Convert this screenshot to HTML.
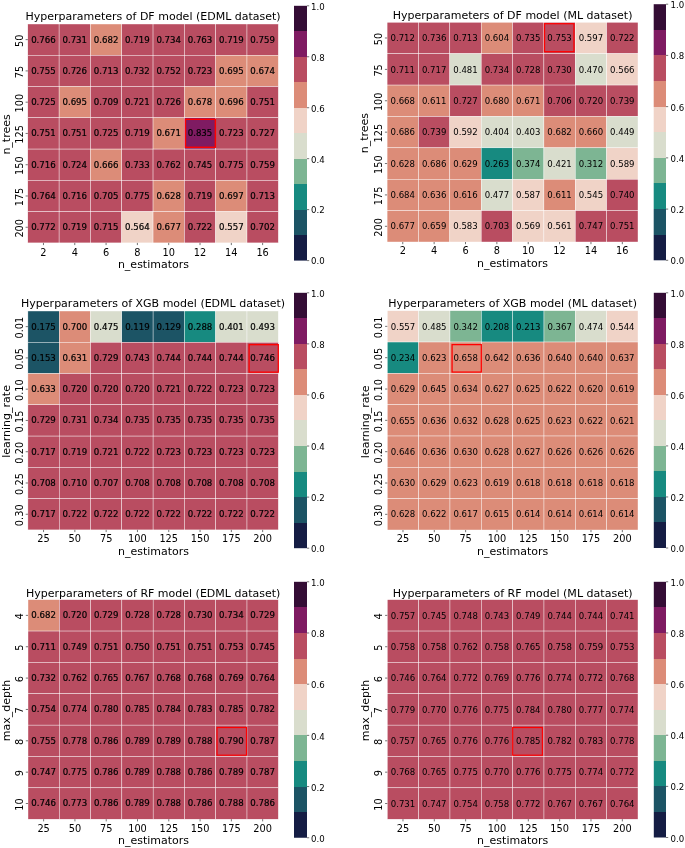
<!DOCTYPE html>
<html><head><meta charset="utf-8"><title>Hyperparameter heatmaps</title>
<style>html,body{margin:0;padding:0;background:#fff}svg{display:block}text{font-family:"DejaVu Sans", "Liberation Sans", sans-serif}</style></head>
<body><svg width="685" height="848" viewBox="0 0 685 848">
<rect width="685" height="848" fill="#fff"/>
<g class="panel p0">
<g stroke="#fff" stroke-width="0.4">
<rect x="27.8" y="24" width="31.31" height="31.27" fill="#b94d61"/>
<rect x="59.11" y="24" width="31.31" height="31.27" fill="#b94d61"/>
<rect x="90.42" y="24" width="31.31" height="31.27" fill="#dc8c78"/>
<rect x="121.74" y="24" width="31.31" height="31.27" fill="#b94d61"/>
<rect x="153.05" y="24" width="31.31" height="31.27" fill="#b94d61"/>
<rect x="184.36" y="24" width="31.31" height="31.27" fill="#b94d61"/>
<rect x="215.68" y="24" width="31.31" height="31.27" fill="#b94d61"/>
<rect x="246.99" y="24" width="31.31" height="31.27" fill="#b94d61"/>
<rect x="27.8" y="55.27" width="31.31" height="31.27" fill="#b94d61"/>
<rect x="59.11" y="55.27" width="31.31" height="31.27" fill="#b94d61"/>
<rect x="90.42" y="55.27" width="31.31" height="31.27" fill="#b94d61"/>
<rect x="121.74" y="55.27" width="31.31" height="31.27" fill="#b94d61"/>
<rect x="153.05" y="55.27" width="31.31" height="31.27" fill="#b94d61"/>
<rect x="184.36" y="55.27" width="31.31" height="31.27" fill="#b94d61"/>
<rect x="215.68" y="55.27" width="31.31" height="31.27" fill="#dc8c78"/>
<rect x="246.99" y="55.27" width="31.31" height="31.27" fill="#dc8c78"/>
<rect x="27.8" y="86.54" width="31.31" height="31.27" fill="#b94d61"/>
<rect x="59.11" y="86.54" width="31.31" height="31.27" fill="#dc8c78"/>
<rect x="90.42" y="86.54" width="31.31" height="31.27" fill="#b94d61"/>
<rect x="121.74" y="86.54" width="31.31" height="31.27" fill="#b94d61"/>
<rect x="153.05" y="86.54" width="31.31" height="31.27" fill="#b94d61"/>
<rect x="184.36" y="86.54" width="31.31" height="31.27" fill="#dc8c78"/>
<rect x="215.68" y="86.54" width="31.31" height="31.27" fill="#dc8c78"/>
<rect x="246.99" y="86.54" width="31.31" height="31.27" fill="#b94d61"/>
<rect x="27.8" y="117.81" width="31.31" height="31.27" fill="#b94d61"/>
<rect x="59.11" y="117.81" width="31.31" height="31.27" fill="#b94d61"/>
<rect x="90.42" y="117.81" width="31.31" height="31.27" fill="#b94d61"/>
<rect x="121.74" y="117.81" width="31.31" height="31.27" fill="#b94d61"/>
<rect x="153.05" y="117.81" width="31.31" height="31.27" fill="#dc8c78"/>
<rect x="184.36" y="117.81" width="31.31" height="31.27" fill="#7f1b62"/>
<rect x="215.68" y="117.81" width="31.31" height="31.27" fill="#b94d61"/>
<rect x="246.99" y="117.81" width="31.31" height="31.27" fill="#b94d61"/>
<rect x="27.8" y="149.09" width="31.31" height="31.27" fill="#b94d61"/>
<rect x="59.11" y="149.09" width="31.31" height="31.27" fill="#b94d61"/>
<rect x="90.42" y="149.09" width="31.31" height="31.27" fill="#dc8c78"/>
<rect x="121.74" y="149.09" width="31.31" height="31.27" fill="#b94d61"/>
<rect x="153.05" y="149.09" width="31.31" height="31.27" fill="#b94d61"/>
<rect x="184.36" y="149.09" width="31.31" height="31.27" fill="#b94d61"/>
<rect x="215.68" y="149.09" width="31.31" height="31.27" fill="#b94d61"/>
<rect x="246.99" y="149.09" width="31.31" height="31.27" fill="#b94d61"/>
<rect x="27.8" y="180.36" width="31.31" height="31.27" fill="#b94d61"/>
<rect x="59.11" y="180.36" width="31.31" height="31.27" fill="#b94d61"/>
<rect x="90.42" y="180.36" width="31.31" height="31.27" fill="#b94d61"/>
<rect x="121.74" y="180.36" width="31.31" height="31.27" fill="#b94d61"/>
<rect x="153.05" y="180.36" width="31.31" height="31.27" fill="#dc8c78"/>
<rect x="184.36" y="180.36" width="31.31" height="31.27" fill="#b94d61"/>
<rect x="215.68" y="180.36" width="31.31" height="31.27" fill="#dc8c78"/>
<rect x="246.99" y="180.36" width="31.31" height="31.27" fill="#b94d61"/>
<rect x="27.8" y="211.63" width="31.31" height="31.27" fill="#b94d61"/>
<rect x="59.11" y="211.63" width="31.31" height="31.27" fill="#b94d61"/>
<rect x="90.42" y="211.63" width="31.31" height="31.27" fill="#b94d61"/>
<rect x="121.74" y="211.63" width="31.31" height="31.27" fill="#f0d3c7"/>
<rect x="153.05" y="211.63" width="31.31" height="31.27" fill="#dc8c78"/>
<rect x="184.36" y="211.63" width="31.31" height="31.27" fill="#b94d61"/>
<rect x="215.68" y="211.63" width="31.31" height="31.27" fill="#f0d3c7"/>
<rect x="246.99" y="211.63" width="31.31" height="31.27" fill="#b94d61"/>
</g>
<g font-size="8.6" text-anchor="middle" fill="#000" stroke="#000" stroke-width="0.2">
<text x="43.46" y="42.54">0.766</text>
<text x="74.77" y="42.54">0.731</text>
<text x="106.08" y="42.54">0.682</text>
<text x="137.39" y="42.54">0.719</text>
<text x="168.71" y="42.54">0.734</text>
<text x="200.02" y="42.54">0.763</text>
<text x="231.33" y="42.54">0.719</text>
<text x="262.64" y="42.54">0.759</text>
<text x="43.46" y="73.81">0.755</text>
<text x="74.77" y="73.81">0.726</text>
<text x="106.08" y="73.81">0.713</text>
<text x="137.39" y="73.81">0.732</text>
<text x="168.71" y="73.81">0.752</text>
<text x="200.02" y="73.81">0.723</text>
<text x="231.33" y="73.81">0.695</text>
<text x="262.64" y="73.81">0.674</text>
<text x="43.46" y="105.08">0.725</text>
<text x="74.77" y="105.08">0.695</text>
<text x="106.08" y="105.08">0.709</text>
<text x="137.39" y="105.08">0.721</text>
<text x="168.71" y="105.08">0.726</text>
<text x="200.02" y="105.08">0.678</text>
<text x="231.33" y="105.08">0.696</text>
<text x="262.64" y="105.08">0.751</text>
<text x="43.46" y="136.35">0.751</text>
<text x="74.77" y="136.35">0.751</text>
<text x="106.08" y="136.35">0.725</text>
<text x="137.39" y="136.35">0.719</text>
<text x="168.71" y="136.35">0.671</text>
<text x="200.02" y="136.35">0.835</text>
<text x="231.33" y="136.35">0.723</text>
<text x="262.64" y="136.35">0.727</text>
<text x="43.46" y="167.62">0.716</text>
<text x="74.77" y="167.62">0.724</text>
<text x="106.08" y="167.62">0.666</text>
<text x="137.39" y="167.62">0.733</text>
<text x="168.71" y="167.62">0.762</text>
<text x="200.02" y="167.62">0.745</text>
<text x="231.33" y="167.62">0.775</text>
<text x="262.64" y="167.62">0.759</text>
<text x="43.46" y="198.89">0.764</text>
<text x="74.77" y="198.89">0.716</text>
<text x="106.08" y="198.89">0.705</text>
<text x="137.39" y="198.89">0.775</text>
<text x="168.71" y="198.89">0.628</text>
<text x="200.02" y="198.89">0.719</text>
<text x="231.33" y="198.89">0.697</text>
<text x="262.64" y="198.89">0.713</text>
<text x="43.46" y="230.16">0.772</text>
<text x="74.77" y="230.16">0.719</text>
<text x="106.08" y="230.16">0.715</text>
<text x="137.39" y="230.16">0.564</text>
<text x="168.71" y="230.16">0.677</text>
<text x="200.02" y="230.16">0.722</text>
<text x="231.33" y="230.16">0.557</text>
<text x="262.64" y="230.16">0.702</text>
</g>
<rect x="185.46" y="119.31" width="29.91" height="27.97" fill="none" stroke="#ff0000" stroke-width="1.4"/>
<path d="M43.46 242.9v2.2M74.77 242.9v2.2M106.08 242.9v2.2M137.39 242.9v2.2M168.71 242.9v2.2M200.02 242.9v2.2M231.33 242.9v2.2M262.64 242.9v2.2M27.8 39.64h-2.2M27.8 70.91h-2.2M27.8 102.18h-2.2M27.8 133.45h-2.2M27.8 164.72h-2.2M27.8 195.99h-2.2M27.8 227.26h-2.2" stroke="#000" stroke-width="0.55" fill="none"/>
<text x="43.46" y="255.75" font-size="9.8" text-anchor="middle" fill="#000">2</text>
<text x="74.77" y="255.75" font-size="9.8" text-anchor="middle" fill="#000">4</text>
<text x="106.08" y="255.75" font-size="9.8" text-anchor="middle" fill="#000">6</text>
<text x="137.39" y="255.75" font-size="9.8" text-anchor="middle" fill="#000">8</text>
<text x="168.71" y="255.75" font-size="9.8" text-anchor="middle" fill="#000">10</text>
<text x="200.02" y="255.75" font-size="9.8" text-anchor="middle" fill="#000">12</text>
<text x="231.33" y="255.75" font-size="9.8" text-anchor="middle" fill="#000">14</text>
<text x="262.64" y="255.75" font-size="9.8" text-anchor="middle" fill="#000">16</text>
<text x="22.7" y="40.64" font-size="9.8" text-anchor="middle" fill="#000" transform="rotate(-90 22.7 40.64)">50</text>
<text x="22.7" y="71.91" font-size="9.8" text-anchor="middle" fill="#000" transform="rotate(-90 22.7 71.91)">75</text>
<text x="22.7" y="103.18" font-size="9.8" text-anchor="middle" fill="#000" transform="rotate(-90 22.7 103.18)">100</text>
<text x="22.7" y="134.45" font-size="9.8" text-anchor="middle" fill="#000" transform="rotate(-90 22.7 134.45)">125</text>
<text x="22.7" y="165.72" font-size="9.8" text-anchor="middle" fill="#000" transform="rotate(-90 22.7 165.72)">150</text>
<text x="22.7" y="196.99" font-size="9.8" text-anchor="middle" fill="#000" transform="rotate(-90 22.7 196.99)">175</text>
<text x="22.7" y="228.26" font-size="9.8" text-anchor="middle" fill="#000" transform="rotate(-90 22.7 228.26)">200</text>
<text x="153.45" y="268.1" font-size="11.0" text-anchor="middle" fill="#000">n_estimators</text>
<text x="10.2" y="134.45" font-size="11.0" text-anchor="middle" fill="#000" transform="rotate(-90 10.2 134.45)">n_trees</text>
<text x="153.05" y="20.1" font-size="11.0" text-anchor="middle" fill="#000">Hyperparameters of DF model (EDML dataset)</text>
<defs><linearGradient id="cb0" x1="0" y1="0" x2="0" y2="1"><stop offset="0" stop-color="#340d35"/><stop offset="0.1" stop-color="#340d35"/><stop offset="0.1" stop-color="#7f1b62"/><stop offset="0.2" stop-color="#7f1b62"/><stop offset="0.2" stop-color="#b94d61"/><stop offset="0.3" stop-color="#b94d61"/><stop offset="0.3" stop-color="#dc8c78"/><stop offset="0.4" stop-color="#dc8c78"/><stop offset="0.4" stop-color="#f0d3c7"/><stop offset="0.5" stop-color="#f0d3c7"/><stop offset="0.5" stop-color="#d9ddcd"/><stop offset="0.6" stop-color="#d9ddcd"/><stop offset="0.6" stop-color="#7db593"/><stop offset="0.7" stop-color="#7db593"/><stop offset="0.7" stop-color="#178a80"/><stop offset="0.8" stop-color="#178a80"/><stop offset="0.8" stop-color="#1c5465"/><stop offset="0.9" stop-color="#1c5465"/><stop offset="0.9" stop-color="#151d44"/><stop offset="1" stop-color="#151d44"/></linearGradient></defs>
<rect x="294" y="5.8" width="13" height="254.8" fill="url(#cb0)"/>
<text x="311" y="264.44" font-size="8.6" text-anchor="start" fill="#000">0.0</text>
<text x="311" y="213.48" font-size="8.6" text-anchor="start" fill="#000">0.2</text>
<text x="311" y="162.52" font-size="8.6" text-anchor="start" fill="#000">0.4</text>
<text x="311" y="111.56" font-size="8.6" text-anchor="start" fill="#000">0.6</text>
<text x="311" y="60.6" font-size="8.6" text-anchor="start" fill="#000">0.8</text>
<text x="311" y="9.64" font-size="8.6" text-anchor="start" fill="#000">1.0</text>
<path d="M307 260.6h2.2M307 209.64h2.2M307 158.68h2.2M307 107.72h2.2M307 56.76h2.2M307 5.8h2.2" stroke="#000" stroke-width="0.55" fill="none"/>
</g>
<g class="panel p1">
<g stroke="#fff" stroke-width="0.4">
<rect x="387.1" y="22.3" width="31.36" height="31.39" fill="#b94d61"/>
<rect x="418.46" y="22.3" width="31.36" height="31.39" fill="#b94d61"/>
<rect x="449.83" y="22.3" width="31.36" height="31.39" fill="#b94d61"/>
<rect x="481.19" y="22.3" width="31.36" height="31.39" fill="#dc8c78"/>
<rect x="512.55" y="22.3" width="31.36" height="31.39" fill="#b94d61"/>
<rect x="543.91" y="22.3" width="31.36" height="31.39" fill="#b94d61"/>
<rect x="575.27" y="22.3" width="31.36" height="31.39" fill="#f0d3c7"/>
<rect x="606.64" y="22.3" width="31.36" height="31.39" fill="#b94d61"/>
<rect x="387.1" y="53.69" width="31.36" height="31.39" fill="#b94d61"/>
<rect x="418.46" y="53.69" width="31.36" height="31.39" fill="#b94d61"/>
<rect x="449.83" y="53.69" width="31.36" height="31.39" fill="#d9ddcd"/>
<rect x="481.19" y="53.69" width="31.36" height="31.39" fill="#b94d61"/>
<rect x="512.55" y="53.69" width="31.36" height="31.39" fill="#b94d61"/>
<rect x="543.91" y="53.69" width="31.36" height="31.39" fill="#b94d61"/>
<rect x="575.27" y="53.69" width="31.36" height="31.39" fill="#d9ddcd"/>
<rect x="606.64" y="53.69" width="31.36" height="31.39" fill="#f0d3c7"/>
<rect x="387.1" y="85.07" width="31.36" height="31.39" fill="#dc8c78"/>
<rect x="418.46" y="85.07" width="31.36" height="31.39" fill="#dc8c78"/>
<rect x="449.83" y="85.07" width="31.36" height="31.39" fill="#b94d61"/>
<rect x="481.19" y="85.07" width="31.36" height="31.39" fill="#dc8c78"/>
<rect x="512.55" y="85.07" width="31.36" height="31.39" fill="#dc8c78"/>
<rect x="543.91" y="85.07" width="31.36" height="31.39" fill="#b94d61"/>
<rect x="575.27" y="85.07" width="31.36" height="31.39" fill="#b94d61"/>
<rect x="606.64" y="85.07" width="31.36" height="31.39" fill="#b94d61"/>
<rect x="387.1" y="116.46" width="31.36" height="31.39" fill="#dc8c78"/>
<rect x="418.46" y="116.46" width="31.36" height="31.39" fill="#b94d61"/>
<rect x="449.83" y="116.46" width="31.36" height="31.39" fill="#f0d3c7"/>
<rect x="481.19" y="116.46" width="31.36" height="31.39" fill="#d9ddcd"/>
<rect x="512.55" y="116.46" width="31.36" height="31.39" fill="#d9ddcd"/>
<rect x="543.91" y="116.46" width="31.36" height="31.39" fill="#dc8c78"/>
<rect x="575.27" y="116.46" width="31.36" height="31.39" fill="#dc8c78"/>
<rect x="606.64" y="116.46" width="31.36" height="31.39" fill="#d9ddcd"/>
<rect x="387.1" y="147.84" width="31.36" height="31.39" fill="#dc8c78"/>
<rect x="418.46" y="147.84" width="31.36" height="31.39" fill="#dc8c78"/>
<rect x="449.83" y="147.84" width="31.36" height="31.39" fill="#dc8c78"/>
<rect x="481.19" y="147.84" width="31.36" height="31.39" fill="#178a80"/>
<rect x="512.55" y="147.84" width="31.36" height="31.39" fill="#7db593"/>
<rect x="543.91" y="147.84" width="31.36" height="31.39" fill="#d9ddcd"/>
<rect x="575.27" y="147.84" width="31.36" height="31.39" fill="#7db593"/>
<rect x="606.64" y="147.84" width="31.36" height="31.39" fill="#f0d3c7"/>
<rect x="387.1" y="179.23" width="31.36" height="31.39" fill="#dc8c78"/>
<rect x="418.46" y="179.23" width="31.36" height="31.39" fill="#dc8c78"/>
<rect x="449.83" y="179.23" width="31.36" height="31.39" fill="#dc8c78"/>
<rect x="481.19" y="179.23" width="31.36" height="31.39" fill="#d9ddcd"/>
<rect x="512.55" y="179.23" width="31.36" height="31.39" fill="#f0d3c7"/>
<rect x="543.91" y="179.23" width="31.36" height="31.39" fill="#dc8c78"/>
<rect x="575.27" y="179.23" width="31.36" height="31.39" fill="#f0d3c7"/>
<rect x="606.64" y="179.23" width="31.36" height="31.39" fill="#b94d61"/>
<rect x="387.1" y="210.61" width="31.36" height="31.39" fill="#dc8c78"/>
<rect x="418.46" y="210.61" width="31.36" height="31.39" fill="#dc8c78"/>
<rect x="449.83" y="210.61" width="31.36" height="31.39" fill="#f0d3c7"/>
<rect x="481.19" y="210.61" width="31.36" height="31.39" fill="#b94d61"/>
<rect x="512.55" y="210.61" width="31.36" height="31.39" fill="#f0d3c7"/>
<rect x="543.91" y="210.61" width="31.36" height="31.39" fill="#f0d3c7"/>
<rect x="575.27" y="210.61" width="31.36" height="31.39" fill="#b94d61"/>
<rect x="606.64" y="210.61" width="31.36" height="31.39" fill="#b94d61"/>
</g>
<g font-size="8.55" text-anchor="middle" fill="#000" stroke="#000" stroke-width="0">
<text x="402.78" y="41.14">0.712</text>
<text x="434.14" y="41.14">0.736</text>
<text x="465.51" y="41.14">0.713</text>
<text x="496.87" y="41.14">0.604</text>
<text x="528.23" y="41.14">0.735</text>
<text x="559.59" y="41.14">0.753</text>
<text x="590.96" y="41.14">0.597</text>
<text x="622.32" y="41.14">0.722</text>
<text x="402.78" y="72.53">0.711</text>
<text x="434.14" y="72.53">0.717</text>
<text x="465.51" y="72.53">0.481</text>
<text x="496.87" y="72.53">0.734</text>
<text x="528.23" y="72.53">0.728</text>
<text x="559.59" y="72.53">0.730</text>
<text x="590.96" y="72.53">0.470</text>
<text x="622.32" y="72.53">0.566</text>
<text x="402.78" y="103.91">0.668</text>
<text x="434.14" y="103.91">0.611</text>
<text x="465.51" y="103.91">0.727</text>
<text x="496.87" y="103.91">0.680</text>
<text x="528.23" y="103.91">0.671</text>
<text x="559.59" y="103.91">0.706</text>
<text x="590.96" y="103.91">0.720</text>
<text x="622.32" y="103.91">0.739</text>
<text x="402.78" y="135.3">0.686</text>
<text x="434.14" y="135.3">0.739</text>
<text x="465.51" y="135.3">0.592</text>
<text x="496.87" y="135.3">0.404</text>
<text x="528.23" y="135.3">0.403</text>
<text x="559.59" y="135.3">0.682</text>
<text x="590.96" y="135.3">0.660</text>
<text x="622.32" y="135.3">0.449</text>
<text x="402.78" y="166.69">0.628</text>
<text x="434.14" y="166.69">0.686</text>
<text x="465.51" y="166.69">0.629</text>
<text x="496.87" y="166.69">0.263</text>
<text x="528.23" y="166.69">0.374</text>
<text x="559.59" y="166.69">0.421</text>
<text x="590.96" y="166.69">0.312</text>
<text x="622.32" y="166.69">0.589</text>
<text x="402.78" y="198.07">0.684</text>
<text x="434.14" y="198.07">0.636</text>
<text x="465.51" y="198.07">0.616</text>
<text x="496.87" y="198.07">0.477</text>
<text x="528.23" y="198.07">0.587</text>
<text x="559.59" y="198.07">0.611</text>
<text x="590.96" y="198.07">0.545</text>
<text x="622.32" y="198.07">0.740</text>
<text x="402.78" y="229.46">0.677</text>
<text x="434.14" y="229.46">0.659</text>
<text x="465.51" y="229.46">0.583</text>
<text x="496.87" y="229.46">0.703</text>
<text x="528.23" y="229.46">0.569</text>
<text x="559.59" y="229.46">0.561</text>
<text x="590.96" y="229.46">0.747</text>
<text x="622.32" y="229.46">0.751</text>
</g>
<rect x="544.51" y="23.7" width="29.46" height="27.99" fill="none" stroke="#ff0000" stroke-width="1.25"/>
<path d="M402.78 242v2.2M434.14 242v2.2M465.51 242v2.2M496.87 242v2.2M528.23 242v2.2M559.59 242v2.2M590.96 242v2.2M622.32 242v2.2M387.1 37.99h-2.2M387.1 69.38h-2.2M387.1 100.76h-2.2M387.1 132.15h-2.2M387.1 163.54h-2.2M387.1 194.92h-2.2M387.1 226.31h-2.2" stroke="#000" stroke-width="0.55" fill="none"/>
<text x="402.78" y="254.2" font-size="9.8" text-anchor="middle" fill="#000">2</text>
<text x="434.14" y="254.2" font-size="9.8" text-anchor="middle" fill="#000">4</text>
<text x="465.51" y="254.2" font-size="9.8" text-anchor="middle" fill="#000">6</text>
<text x="496.87" y="254.2" font-size="9.8" text-anchor="middle" fill="#000">8</text>
<text x="528.23" y="254.2" font-size="9.8" text-anchor="middle" fill="#000">10</text>
<text x="559.59" y="254.2" font-size="9.8" text-anchor="middle" fill="#000">12</text>
<text x="590.96" y="254.2" font-size="9.8" text-anchor="middle" fill="#000">14</text>
<text x="622.32" y="254.2" font-size="9.8" text-anchor="middle" fill="#000">16</text>
<text x="382" y="38.99" font-size="9.8" text-anchor="middle" fill="#000" transform="rotate(-90 382 38.99)">50</text>
<text x="382" y="70.38" font-size="9.8" text-anchor="middle" fill="#000" transform="rotate(-90 382 70.38)">75</text>
<text x="382" y="101.76" font-size="9.8" text-anchor="middle" fill="#000" transform="rotate(-90 382 101.76)">100</text>
<text x="382" y="133.15" font-size="9.8" text-anchor="middle" fill="#000" transform="rotate(-90 382 133.15)">125</text>
<text x="382" y="164.54" font-size="9.8" text-anchor="middle" fill="#000" transform="rotate(-90 382 164.54)">150</text>
<text x="382" y="195.92" font-size="9.8" text-anchor="middle" fill="#000" transform="rotate(-90 382 195.92)">175</text>
<text x="382" y="227.31" font-size="9.8" text-anchor="middle" fill="#000" transform="rotate(-90 382 227.31)">200</text>
<text x="512.55" y="266.8" font-size="11.0" text-anchor="middle" fill="#000">n_estimators</text>
<text x="368.3" y="133.15" font-size="11.0" text-anchor="middle" fill="#000" transform="rotate(-90 368.3 133.15)">n_trees</text>
<text x="512.55" y="18.8" font-size="11.0" text-anchor="middle" fill="#000">Hyperparameters of DF model (ML dataset)</text>
<defs><linearGradient id="cb1" x1="0" y1="0" x2="0" y2="1"><stop offset="0" stop-color="#340d35"/><stop offset="0.1" stop-color="#340d35"/><stop offset="0.1" stop-color="#7f1b62"/><stop offset="0.2" stop-color="#7f1b62"/><stop offset="0.2" stop-color="#b94d61"/><stop offset="0.3" stop-color="#b94d61"/><stop offset="0.3" stop-color="#dc8c78"/><stop offset="0.4" stop-color="#dc8c78"/><stop offset="0.4" stop-color="#f0d3c7"/><stop offset="0.5" stop-color="#f0d3c7"/><stop offset="0.5" stop-color="#d9ddcd"/><stop offset="0.6" stop-color="#d9ddcd"/><stop offset="0.6" stop-color="#7db593"/><stop offset="0.7" stop-color="#7db593"/><stop offset="0.7" stop-color="#178a80"/><stop offset="0.8" stop-color="#178a80"/><stop offset="0.8" stop-color="#1c5465"/><stop offset="0.9" stop-color="#1c5465"/><stop offset="0.9" stop-color="#151d44"/><stop offset="1" stop-color="#151d44"/></linearGradient></defs>
<rect x="653.7" y="4.2" width="12.3" height="256.1" fill="url(#cb1)"/>
<text x="670.5" y="264.34" font-size="8.6" text-anchor="start" fill="#000">0.0</text>
<text x="670.5" y="213.12" font-size="8.6" text-anchor="start" fill="#000">0.2</text>
<text x="670.5" y="161.9" font-size="8.6" text-anchor="start" fill="#000">0.4</text>
<text x="670.5" y="110.68" font-size="8.6" text-anchor="start" fill="#000">0.6</text>
<text x="670.5" y="59.46" font-size="8.6" text-anchor="start" fill="#000">0.8</text>
<text x="670.5" y="8.24" font-size="8.6" text-anchor="start" fill="#000">1.0</text>
<path d="M666 260.3h2.2M666 209.08h2.2M666 157.86h2.2M666 106.64h2.2M666 55.42h2.2M666 4.2h2.2" stroke="#000" stroke-width="0.55" fill="none"/>
</g>
<g class="panel p2">
<g stroke="#fff" stroke-width="0.4">
<rect x="27.9" y="311" width="31.3" height="31.27" fill="#1c5465"/>
<rect x="59.2" y="311" width="31.3" height="31.27" fill="#dc8c78"/>
<rect x="90.5" y="311" width="31.3" height="31.27" fill="#d9ddcd"/>
<rect x="121.8" y="311" width="31.3" height="31.27" fill="#1c5465"/>
<rect x="153.1" y="311" width="31.3" height="31.27" fill="#1c5465"/>
<rect x="184.4" y="311" width="31.3" height="31.27" fill="#178a80"/>
<rect x="215.7" y="311" width="31.3" height="31.27" fill="#d9ddcd"/>
<rect x="247" y="311" width="31.3" height="31.27" fill="#d9ddcd"/>
<rect x="27.9" y="342.27" width="31.3" height="31.27" fill="#1c5465"/>
<rect x="59.2" y="342.27" width="31.3" height="31.27" fill="#dc8c78"/>
<rect x="90.5" y="342.27" width="31.3" height="31.27" fill="#b94d61"/>
<rect x="121.8" y="342.27" width="31.3" height="31.27" fill="#b94d61"/>
<rect x="153.1" y="342.27" width="31.3" height="31.27" fill="#b94d61"/>
<rect x="184.4" y="342.27" width="31.3" height="31.27" fill="#b94d61"/>
<rect x="215.7" y="342.27" width="31.3" height="31.27" fill="#b94d61"/>
<rect x="247" y="342.27" width="31.3" height="31.27" fill="#b94d61"/>
<rect x="27.9" y="373.54" width="31.3" height="31.27" fill="#dc8c78"/>
<rect x="59.2" y="373.54" width="31.3" height="31.27" fill="#b94d61"/>
<rect x="90.5" y="373.54" width="31.3" height="31.27" fill="#b94d61"/>
<rect x="121.8" y="373.54" width="31.3" height="31.27" fill="#b94d61"/>
<rect x="153.1" y="373.54" width="31.3" height="31.27" fill="#b94d61"/>
<rect x="184.4" y="373.54" width="31.3" height="31.27" fill="#b94d61"/>
<rect x="215.7" y="373.54" width="31.3" height="31.27" fill="#b94d61"/>
<rect x="247" y="373.54" width="31.3" height="31.27" fill="#b94d61"/>
<rect x="27.9" y="404.81" width="31.3" height="31.27" fill="#b94d61"/>
<rect x="59.2" y="404.81" width="31.3" height="31.27" fill="#b94d61"/>
<rect x="90.5" y="404.81" width="31.3" height="31.27" fill="#b94d61"/>
<rect x="121.8" y="404.81" width="31.3" height="31.27" fill="#b94d61"/>
<rect x="153.1" y="404.81" width="31.3" height="31.27" fill="#b94d61"/>
<rect x="184.4" y="404.81" width="31.3" height="31.27" fill="#b94d61"/>
<rect x="215.7" y="404.81" width="31.3" height="31.27" fill="#b94d61"/>
<rect x="247" y="404.81" width="31.3" height="31.27" fill="#b94d61"/>
<rect x="27.9" y="436.09" width="31.3" height="31.27" fill="#b94d61"/>
<rect x="59.2" y="436.09" width="31.3" height="31.27" fill="#b94d61"/>
<rect x="90.5" y="436.09" width="31.3" height="31.27" fill="#b94d61"/>
<rect x="121.8" y="436.09" width="31.3" height="31.27" fill="#b94d61"/>
<rect x="153.1" y="436.09" width="31.3" height="31.27" fill="#b94d61"/>
<rect x="184.4" y="436.09" width="31.3" height="31.27" fill="#b94d61"/>
<rect x="215.7" y="436.09" width="31.3" height="31.27" fill="#b94d61"/>
<rect x="247" y="436.09" width="31.3" height="31.27" fill="#b94d61"/>
<rect x="27.9" y="467.36" width="31.3" height="31.27" fill="#b94d61"/>
<rect x="59.2" y="467.36" width="31.3" height="31.27" fill="#b94d61"/>
<rect x="90.5" y="467.36" width="31.3" height="31.27" fill="#b94d61"/>
<rect x="121.8" y="467.36" width="31.3" height="31.27" fill="#b94d61"/>
<rect x="153.1" y="467.36" width="31.3" height="31.27" fill="#b94d61"/>
<rect x="184.4" y="467.36" width="31.3" height="31.27" fill="#b94d61"/>
<rect x="215.7" y="467.36" width="31.3" height="31.27" fill="#b94d61"/>
<rect x="247" y="467.36" width="31.3" height="31.27" fill="#b94d61"/>
<rect x="27.9" y="498.63" width="31.3" height="31.27" fill="#b94d61"/>
<rect x="59.2" y="498.63" width="31.3" height="31.27" fill="#b94d61"/>
<rect x="90.5" y="498.63" width="31.3" height="31.27" fill="#b94d61"/>
<rect x="121.8" y="498.63" width="31.3" height="31.27" fill="#b94d61"/>
<rect x="153.1" y="498.63" width="31.3" height="31.27" fill="#b94d61"/>
<rect x="184.4" y="498.63" width="31.3" height="31.27" fill="#b94d61"/>
<rect x="215.7" y="498.63" width="31.3" height="31.27" fill="#b94d61"/>
<rect x="247" y="498.63" width="31.3" height="31.27" fill="#b94d61"/>
</g>
<g font-size="8.6" text-anchor="middle" fill="#000" stroke="#000" stroke-width="0.2">
<text x="43.55" y="329.54">0.175</text>
<text x="74.85" y="329.54">0.700</text>
<text x="106.15" y="329.54">0.475</text>
<text x="137.45" y="329.54">0.119</text>
<text x="168.75" y="329.54">0.129</text>
<text x="200.05" y="329.54">0.288</text>
<text x="231.35" y="329.54">0.401</text>
<text x="262.65" y="329.54">0.493</text>
<text x="43.55" y="360.81">0.153</text>
<text x="74.85" y="360.81">0.631</text>
<text x="106.15" y="360.81">0.729</text>
<text x="137.45" y="360.81">0.743</text>
<text x="168.75" y="360.81">0.744</text>
<text x="200.05" y="360.81">0.744</text>
<text x="231.35" y="360.81">0.744</text>
<text x="262.65" y="360.81">0.746</text>
<text x="43.55" y="392.08">0.633</text>
<text x="74.85" y="392.08">0.720</text>
<text x="106.15" y="392.08">0.720</text>
<text x="137.45" y="392.08">0.720</text>
<text x="168.75" y="392.08">0.721</text>
<text x="200.05" y="392.08">0.722</text>
<text x="231.35" y="392.08">0.723</text>
<text x="262.65" y="392.08">0.723</text>
<text x="43.55" y="423.35">0.729</text>
<text x="74.85" y="423.35">0.731</text>
<text x="106.15" y="423.35">0.734</text>
<text x="137.45" y="423.35">0.735</text>
<text x="168.75" y="423.35">0.735</text>
<text x="200.05" y="423.35">0.735</text>
<text x="231.35" y="423.35">0.735</text>
<text x="262.65" y="423.35">0.735</text>
<text x="43.55" y="454.62">0.717</text>
<text x="74.85" y="454.62">0.719</text>
<text x="106.15" y="454.62">0.721</text>
<text x="137.45" y="454.62">0.722</text>
<text x="168.75" y="454.62">0.723</text>
<text x="200.05" y="454.62">0.723</text>
<text x="231.35" y="454.62">0.723</text>
<text x="262.65" y="454.62">0.723</text>
<text x="43.55" y="485.89">0.708</text>
<text x="74.85" y="485.89">0.710</text>
<text x="106.15" y="485.89">0.707</text>
<text x="137.45" y="485.89">0.708</text>
<text x="168.75" y="485.89">0.708</text>
<text x="200.05" y="485.89">0.708</text>
<text x="231.35" y="485.89">0.708</text>
<text x="262.65" y="485.89">0.708</text>
<text x="43.55" y="517.16">0.717</text>
<text x="74.85" y="517.16">0.722</text>
<text x="106.15" y="517.16">0.722</text>
<text x="137.45" y="517.16">0.722</text>
<text x="168.75" y="517.16">0.722</text>
<text x="200.05" y="517.16">0.722</text>
<text x="231.35" y="517.16">0.722</text>
<text x="262.65" y="517.16">0.722</text>
</g>
<rect x="249.1" y="344.67" width="29.2" height="27.47" fill="none" stroke="#ff0000" stroke-width="1.3"/>
<path d="M43.55 529.9v2.2M74.85 529.9v2.2M106.15 529.9v2.2M137.45 529.9v2.2M168.75 529.9v2.2M200.05 529.9v2.2M231.35 529.9v2.2M262.65 529.9v2.2M27.9 326.64h-2.2M27.9 357.91h-2.2M27.9 389.18h-2.2M27.9 420.45h-2.2M27.9 451.72h-2.2M27.9 482.99h-2.2M27.9 514.26h-2.2" stroke="#000" stroke-width="0.55" fill="none"/>
<text x="43.55" y="542.25" font-size="9.8" text-anchor="middle" fill="#000">25</text>
<text x="74.85" y="542.25" font-size="9.8" text-anchor="middle" fill="#000">50</text>
<text x="106.15" y="542.25" font-size="9.8" text-anchor="middle" fill="#000">75</text>
<text x="137.45" y="542.25" font-size="9.8" text-anchor="middle" fill="#000">100</text>
<text x="168.75" y="542.25" font-size="9.8" text-anchor="middle" fill="#000">125</text>
<text x="200.05" y="542.25" font-size="9.8" text-anchor="middle" fill="#000">150</text>
<text x="231.35" y="542.25" font-size="9.8" text-anchor="middle" fill="#000">175</text>
<text x="262.65" y="542.25" font-size="9.8" text-anchor="middle" fill="#000">200</text>
<text x="22.8" y="327.64" font-size="9.8" text-anchor="middle" fill="#000" transform="rotate(-90 22.8 327.64)">0.01</text>
<text x="22.8" y="358.91" font-size="9.8" text-anchor="middle" fill="#000" transform="rotate(-90 22.8 358.91)">0.05</text>
<text x="22.8" y="390.18" font-size="9.8" text-anchor="middle" fill="#000" transform="rotate(-90 22.8 390.18)">0.10</text>
<text x="22.8" y="421.45" font-size="9.8" text-anchor="middle" fill="#000" transform="rotate(-90 22.8 421.45)">0.15</text>
<text x="22.8" y="452.72" font-size="9.8" text-anchor="middle" fill="#000" transform="rotate(-90 22.8 452.72)">0.20</text>
<text x="22.8" y="483.99" font-size="9.8" text-anchor="middle" fill="#000" transform="rotate(-90 22.8 483.99)">0.25</text>
<text x="22.8" y="515.26" font-size="9.8" text-anchor="middle" fill="#000" transform="rotate(-90 22.8 515.26)">0.30</text>
<text x="153.5" y="555.1" font-size="11.0" text-anchor="middle" fill="#000">n_estimators</text>
<text x="10.3" y="421.45" font-size="11.0" text-anchor="middle" fill="#000" transform="rotate(-90 10.3 421.45)">learning_rate</text>
<text x="153.1" y="307.1" font-size="11.0" text-anchor="middle" fill="#000">Hyperparameters of XGB model (EDML dataset)</text>
<defs><linearGradient id="cb2" x1="0" y1="0" x2="0" y2="1"><stop offset="0" stop-color="#340d35"/><stop offset="0.1" stop-color="#340d35"/><stop offset="0.1" stop-color="#7f1b62"/><stop offset="0.2" stop-color="#7f1b62"/><stop offset="0.2" stop-color="#b94d61"/><stop offset="0.3" stop-color="#b94d61"/><stop offset="0.3" stop-color="#dc8c78"/><stop offset="0.4" stop-color="#dc8c78"/><stop offset="0.4" stop-color="#f0d3c7"/><stop offset="0.5" stop-color="#f0d3c7"/><stop offset="0.5" stop-color="#d9ddcd"/><stop offset="0.6" stop-color="#d9ddcd"/><stop offset="0.6" stop-color="#7db593"/><stop offset="0.7" stop-color="#7db593"/><stop offset="0.7" stop-color="#178a80"/><stop offset="0.8" stop-color="#178a80"/><stop offset="0.8" stop-color="#1c5465"/><stop offset="0.9" stop-color="#1c5465"/><stop offset="0.9" stop-color="#151d44"/><stop offset="1" stop-color="#151d44"/></linearGradient></defs>
<rect x="294" y="292.8" width="13" height="255.4" fill="url(#cb2)"/>
<text x="311" y="552.04" font-size="8.6" text-anchor="start" fill="#000">0.0</text>
<text x="311" y="500.96" font-size="8.6" text-anchor="start" fill="#000">0.2</text>
<text x="311" y="449.88" font-size="8.6" text-anchor="start" fill="#000">0.4</text>
<text x="311" y="398.8" font-size="8.6" text-anchor="start" fill="#000">0.6</text>
<text x="311" y="347.72" font-size="8.6" text-anchor="start" fill="#000">0.8</text>
<text x="311" y="296.64" font-size="8.6" text-anchor="start" fill="#000">1.0</text>
<path d="M307 548.2h2.2M307 497.12h2.2M307 446.04h2.2M307 394.96h2.2M307 343.88h2.2M307 292.8h2.2" stroke="#000" stroke-width="0.55" fill="none"/>
</g>
<g class="panel p3">
<g stroke="#fff" stroke-width="0.4">
<rect x="387.3" y="310.7" width="31.34" height="31.33" fill="#f0d3c7"/>
<rect x="418.64" y="310.7" width="31.34" height="31.33" fill="#d9ddcd"/>
<rect x="449.98" y="310.7" width="31.34" height="31.33" fill="#7db593"/>
<rect x="481.31" y="310.7" width="31.34" height="31.33" fill="#178a80"/>
<rect x="512.65" y="310.7" width="31.34" height="31.33" fill="#178a80"/>
<rect x="543.99" y="310.7" width="31.34" height="31.33" fill="#7db593"/>
<rect x="575.33" y="310.7" width="31.34" height="31.33" fill="#d9ddcd"/>
<rect x="606.66" y="310.7" width="31.34" height="31.33" fill="#f0d3c7"/>
<rect x="387.3" y="342.03" width="31.34" height="31.33" fill="#178a80"/>
<rect x="418.64" y="342.03" width="31.34" height="31.33" fill="#dc8c78"/>
<rect x="449.98" y="342.03" width="31.34" height="31.33" fill="#dc8c78"/>
<rect x="481.31" y="342.03" width="31.34" height="31.33" fill="#dc8c78"/>
<rect x="512.65" y="342.03" width="31.34" height="31.33" fill="#dc8c78"/>
<rect x="543.99" y="342.03" width="31.34" height="31.33" fill="#dc8c78"/>
<rect x="575.33" y="342.03" width="31.34" height="31.33" fill="#dc8c78"/>
<rect x="606.66" y="342.03" width="31.34" height="31.33" fill="#dc8c78"/>
<rect x="387.3" y="373.36" width="31.34" height="31.33" fill="#dc8c78"/>
<rect x="418.64" y="373.36" width="31.34" height="31.33" fill="#dc8c78"/>
<rect x="449.98" y="373.36" width="31.34" height="31.33" fill="#dc8c78"/>
<rect x="481.31" y="373.36" width="31.34" height="31.33" fill="#dc8c78"/>
<rect x="512.65" y="373.36" width="31.34" height="31.33" fill="#dc8c78"/>
<rect x="543.99" y="373.36" width="31.34" height="31.33" fill="#dc8c78"/>
<rect x="575.33" y="373.36" width="31.34" height="31.33" fill="#dc8c78"/>
<rect x="606.66" y="373.36" width="31.34" height="31.33" fill="#dc8c78"/>
<rect x="387.3" y="404.69" width="31.34" height="31.33" fill="#dc8c78"/>
<rect x="418.64" y="404.69" width="31.34" height="31.33" fill="#dc8c78"/>
<rect x="449.98" y="404.69" width="31.34" height="31.33" fill="#dc8c78"/>
<rect x="481.31" y="404.69" width="31.34" height="31.33" fill="#dc8c78"/>
<rect x="512.65" y="404.69" width="31.34" height="31.33" fill="#dc8c78"/>
<rect x="543.99" y="404.69" width="31.34" height="31.33" fill="#dc8c78"/>
<rect x="575.33" y="404.69" width="31.34" height="31.33" fill="#dc8c78"/>
<rect x="606.66" y="404.69" width="31.34" height="31.33" fill="#dc8c78"/>
<rect x="387.3" y="436.01" width="31.34" height="31.33" fill="#dc8c78"/>
<rect x="418.64" y="436.01" width="31.34" height="31.33" fill="#dc8c78"/>
<rect x="449.98" y="436.01" width="31.34" height="31.33" fill="#dc8c78"/>
<rect x="481.31" y="436.01" width="31.34" height="31.33" fill="#dc8c78"/>
<rect x="512.65" y="436.01" width="31.34" height="31.33" fill="#dc8c78"/>
<rect x="543.99" y="436.01" width="31.34" height="31.33" fill="#dc8c78"/>
<rect x="575.33" y="436.01" width="31.34" height="31.33" fill="#dc8c78"/>
<rect x="606.66" y="436.01" width="31.34" height="31.33" fill="#dc8c78"/>
<rect x="387.3" y="467.34" width="31.34" height="31.33" fill="#dc8c78"/>
<rect x="418.64" y="467.34" width="31.34" height="31.33" fill="#dc8c78"/>
<rect x="449.98" y="467.34" width="31.34" height="31.33" fill="#dc8c78"/>
<rect x="481.31" y="467.34" width="31.34" height="31.33" fill="#dc8c78"/>
<rect x="512.65" y="467.34" width="31.34" height="31.33" fill="#dc8c78"/>
<rect x="543.99" y="467.34" width="31.34" height="31.33" fill="#dc8c78"/>
<rect x="575.33" y="467.34" width="31.34" height="31.33" fill="#dc8c78"/>
<rect x="606.66" y="467.34" width="31.34" height="31.33" fill="#dc8c78"/>
<rect x="387.3" y="498.67" width="31.34" height="31.33" fill="#dc8c78"/>
<rect x="418.64" y="498.67" width="31.34" height="31.33" fill="#dc8c78"/>
<rect x="449.98" y="498.67" width="31.34" height="31.33" fill="#dc8c78"/>
<rect x="481.31" y="498.67" width="31.34" height="31.33" fill="#dc8c78"/>
<rect x="512.65" y="498.67" width="31.34" height="31.33" fill="#dc8c78"/>
<rect x="543.99" y="498.67" width="31.34" height="31.33" fill="#dc8c78"/>
<rect x="575.33" y="498.67" width="31.34" height="31.33" fill="#dc8c78"/>
<rect x="606.66" y="498.67" width="31.34" height="31.33" fill="#dc8c78"/>
</g>
<g font-size="8.55" text-anchor="middle" fill="#000" stroke="#000" stroke-width="0">
<text x="402.97" y="329.51">0.557</text>
<text x="434.31" y="329.51">0.485</text>
<text x="465.64" y="329.51">0.342</text>
<text x="496.98" y="329.51">0.208</text>
<text x="528.32" y="329.51">0.213</text>
<text x="559.66" y="329.51">0.367</text>
<text x="590.99" y="329.51">0.474</text>
<text x="622.33" y="329.51">0.544</text>
<text x="402.97" y="360.84">0.234</text>
<text x="434.31" y="360.84">0.623</text>
<text x="465.64" y="360.84">0.658</text>
<text x="496.98" y="360.84">0.642</text>
<text x="528.32" y="360.84">0.636</text>
<text x="559.66" y="360.84">0.640</text>
<text x="590.99" y="360.84">0.640</text>
<text x="622.33" y="360.84">0.637</text>
<text x="402.97" y="392.17">0.629</text>
<text x="434.31" y="392.17">0.645</text>
<text x="465.64" y="392.17">0.634</text>
<text x="496.98" y="392.17">0.627</text>
<text x="528.32" y="392.17">0.625</text>
<text x="559.66" y="392.17">0.622</text>
<text x="590.99" y="392.17">0.620</text>
<text x="622.33" y="392.17">0.619</text>
<text x="402.97" y="423.5">0.655</text>
<text x="434.31" y="423.5">0.636</text>
<text x="465.64" y="423.5">0.632</text>
<text x="496.98" y="423.5">0.628</text>
<text x="528.32" y="423.5">0.625</text>
<text x="559.66" y="423.5">0.623</text>
<text x="590.99" y="423.5">0.622</text>
<text x="622.33" y="423.5">0.621</text>
<text x="402.97" y="454.83">0.646</text>
<text x="434.31" y="454.83">0.636</text>
<text x="465.64" y="454.83">0.630</text>
<text x="496.98" y="454.83">0.628</text>
<text x="528.32" y="454.83">0.627</text>
<text x="559.66" y="454.83">0.626</text>
<text x="590.99" y="454.83">0.626</text>
<text x="622.33" y="454.83">0.626</text>
<text x="402.97" y="486.16">0.630</text>
<text x="434.31" y="486.16">0.629</text>
<text x="465.64" y="486.16">0.623</text>
<text x="496.98" y="486.16">0.619</text>
<text x="528.32" y="486.16">0.618</text>
<text x="559.66" y="486.16">0.618</text>
<text x="590.99" y="486.16">0.618</text>
<text x="622.33" y="486.16">0.618</text>
<text x="402.97" y="517.49">0.628</text>
<text x="434.31" y="517.49">0.622</text>
<text x="465.64" y="517.49">0.617</text>
<text x="496.98" y="517.49">0.615</text>
<text x="528.32" y="517.49">0.614</text>
<text x="559.66" y="517.49">0.614</text>
<text x="590.99" y="517.49">0.614</text>
<text x="622.33" y="517.49">0.614</text>
</g>
<rect x="452.08" y="344.63" width="29.24" height="27.43" fill="none" stroke="#ff0000" stroke-width="1.25"/>
<path d="M402.97 530v2.2M434.31 530v2.2M465.64 530v2.2M496.98 530v2.2M528.32 530v2.2M559.66 530v2.2M590.99 530v2.2M622.33 530v2.2M387.3 326.36h-2.2M387.3 357.69h-2.2M387.3 389.02h-2.2M387.3 420.35h-2.2M387.3 451.68h-2.2M387.3 483.01h-2.2M387.3 514.34h-2.2" stroke="#000" stroke-width="0.55" fill="none"/>
<text x="402.97" y="542" font-size="9.8" text-anchor="middle" fill="#000">25</text>
<text x="434.31" y="542" font-size="9.8" text-anchor="middle" fill="#000">50</text>
<text x="465.64" y="542" font-size="9.8" text-anchor="middle" fill="#000">75</text>
<text x="496.98" y="542" font-size="9.8" text-anchor="middle" fill="#000">100</text>
<text x="528.32" y="542" font-size="9.8" text-anchor="middle" fill="#000">125</text>
<text x="559.66" y="542" font-size="9.8" text-anchor="middle" fill="#000">150</text>
<text x="590.99" y="542" font-size="9.8" text-anchor="middle" fill="#000">175</text>
<text x="622.33" y="542" font-size="9.8" text-anchor="middle" fill="#000">200</text>
<text x="382.2" y="327.36" font-size="9.8" text-anchor="middle" fill="#000" transform="rotate(-90 382.2 327.36)">0.01</text>
<text x="382.2" y="358.69" font-size="9.8" text-anchor="middle" fill="#000" transform="rotate(-90 382.2 358.69)">0.05</text>
<text x="382.2" y="390.02" font-size="9.8" text-anchor="middle" fill="#000" transform="rotate(-90 382.2 390.02)">0.10</text>
<text x="382.2" y="421.35" font-size="9.8" text-anchor="middle" fill="#000" transform="rotate(-90 382.2 421.35)">0.15</text>
<text x="382.2" y="452.68" font-size="9.8" text-anchor="middle" fill="#000" transform="rotate(-90 382.2 452.68)">0.20</text>
<text x="382.2" y="484.01" font-size="9.8" text-anchor="middle" fill="#000" transform="rotate(-90 382.2 484.01)">0.25</text>
<text x="382.2" y="515.34" font-size="9.8" text-anchor="middle" fill="#000" transform="rotate(-90 382.2 515.34)">0.30</text>
<text x="512.65" y="554.9" font-size="11.0" text-anchor="middle" fill="#000">n_estimators</text>
<text x="368.6" y="421.75" font-size="11.0" text-anchor="middle" fill="#000" transform="rotate(-90 368.6 421.75)">learning_rate</text>
<text x="512.65" y="306.8" font-size="11.0" text-anchor="middle" fill="#000">Hyperparameters of XGB model (ML dataset)</text>
<defs><linearGradient id="cb3" x1="0" y1="0" x2="0" y2="1"><stop offset="0" stop-color="#340d35"/><stop offset="0.1" stop-color="#340d35"/><stop offset="0.1" stop-color="#7f1b62"/><stop offset="0.2" stop-color="#7f1b62"/><stop offset="0.2" stop-color="#b94d61"/><stop offset="0.3" stop-color="#b94d61"/><stop offset="0.3" stop-color="#dc8c78"/><stop offset="0.4" stop-color="#dc8c78"/><stop offset="0.4" stop-color="#f0d3c7"/><stop offset="0.5" stop-color="#f0d3c7"/><stop offset="0.5" stop-color="#d9ddcd"/><stop offset="0.6" stop-color="#d9ddcd"/><stop offset="0.6" stop-color="#7db593"/><stop offset="0.7" stop-color="#7db593"/><stop offset="0.7" stop-color="#178a80"/><stop offset="0.8" stop-color="#178a80"/><stop offset="0.8" stop-color="#1c5465"/><stop offset="0.9" stop-color="#1c5465"/><stop offset="0.9" stop-color="#151d44"/><stop offset="1" stop-color="#151d44"/></linearGradient></defs>
<rect x="653.8" y="292.8" width="12.2" height="255.2" fill="url(#cb3)"/>
<text x="670.5" y="552.04" font-size="8.6" text-anchor="start" fill="#000">0.0</text>
<text x="670.5" y="501" font-size="8.6" text-anchor="start" fill="#000">0.2</text>
<text x="670.5" y="449.96" font-size="8.6" text-anchor="start" fill="#000">0.4</text>
<text x="670.5" y="398.92" font-size="8.6" text-anchor="start" fill="#000">0.6</text>
<text x="670.5" y="347.88" font-size="8.6" text-anchor="start" fill="#000">0.8</text>
<text x="670.5" y="296.84" font-size="8.6" text-anchor="start" fill="#000">1.0</text>
<path d="M666 548h2.2M666 496.96h2.2M666 445.92h2.2M666 394.88h2.2M666 343.84h2.2M666 292.8h2.2" stroke="#000" stroke-width="0.55" fill="none"/>
</g>
<g class="panel p4">
<g stroke="#fff" stroke-width="0.4">
<rect x="28" y="599.7" width="31.29" height="31.36" fill="#dc8c78"/>
<rect x="59.29" y="599.7" width="31.29" height="31.36" fill="#b94d61"/>
<rect x="90.58" y="599.7" width="31.29" height="31.36" fill="#b94d61"/>
<rect x="121.86" y="599.7" width="31.29" height="31.36" fill="#b94d61"/>
<rect x="153.15" y="599.7" width="31.29" height="31.36" fill="#b94d61"/>
<rect x="184.44" y="599.7" width="31.29" height="31.36" fill="#b94d61"/>
<rect x="215.73" y="599.7" width="31.29" height="31.36" fill="#b94d61"/>
<rect x="247.01" y="599.7" width="31.29" height="31.36" fill="#b94d61"/>
<rect x="28" y="631.06" width="31.29" height="31.36" fill="#b94d61"/>
<rect x="59.29" y="631.06" width="31.29" height="31.36" fill="#b94d61"/>
<rect x="90.58" y="631.06" width="31.29" height="31.36" fill="#b94d61"/>
<rect x="121.86" y="631.06" width="31.29" height="31.36" fill="#b94d61"/>
<rect x="153.15" y="631.06" width="31.29" height="31.36" fill="#b94d61"/>
<rect x="184.44" y="631.06" width="31.29" height="31.36" fill="#b94d61"/>
<rect x="215.73" y="631.06" width="31.29" height="31.36" fill="#b94d61"/>
<rect x="247.01" y="631.06" width="31.29" height="31.36" fill="#b94d61"/>
<rect x="28" y="662.41" width="31.29" height="31.36" fill="#b94d61"/>
<rect x="59.29" y="662.41" width="31.29" height="31.36" fill="#b94d61"/>
<rect x="90.58" y="662.41" width="31.29" height="31.36" fill="#b94d61"/>
<rect x="121.86" y="662.41" width="31.29" height="31.36" fill="#b94d61"/>
<rect x="153.15" y="662.41" width="31.29" height="31.36" fill="#b94d61"/>
<rect x="184.44" y="662.41" width="31.29" height="31.36" fill="#b94d61"/>
<rect x="215.73" y="662.41" width="31.29" height="31.36" fill="#b94d61"/>
<rect x="247.01" y="662.41" width="31.29" height="31.36" fill="#b94d61"/>
<rect x="28" y="693.77" width="31.29" height="31.36" fill="#b94d61"/>
<rect x="59.29" y="693.77" width="31.29" height="31.36" fill="#b94d61"/>
<rect x="90.58" y="693.77" width="31.29" height="31.36" fill="#b94d61"/>
<rect x="121.86" y="693.77" width="31.29" height="31.36" fill="#b94d61"/>
<rect x="153.15" y="693.77" width="31.29" height="31.36" fill="#b94d61"/>
<rect x="184.44" y="693.77" width="31.29" height="31.36" fill="#b94d61"/>
<rect x="215.73" y="693.77" width="31.29" height="31.36" fill="#b94d61"/>
<rect x="247.01" y="693.77" width="31.29" height="31.36" fill="#b94d61"/>
<rect x="28" y="725.13" width="31.29" height="31.36" fill="#b94d61"/>
<rect x="59.29" y="725.13" width="31.29" height="31.36" fill="#b94d61"/>
<rect x="90.58" y="725.13" width="31.29" height="31.36" fill="#b94d61"/>
<rect x="121.86" y="725.13" width="31.29" height="31.36" fill="#b94d61"/>
<rect x="153.15" y="725.13" width="31.29" height="31.36" fill="#b94d61"/>
<rect x="184.44" y="725.13" width="31.29" height="31.36" fill="#b94d61"/>
<rect x="215.73" y="725.13" width="31.29" height="31.36" fill="#b94d61"/>
<rect x="247.01" y="725.13" width="31.29" height="31.36" fill="#b94d61"/>
<rect x="28" y="756.49" width="31.29" height="31.36" fill="#b94d61"/>
<rect x="59.29" y="756.49" width="31.29" height="31.36" fill="#b94d61"/>
<rect x="90.58" y="756.49" width="31.29" height="31.36" fill="#b94d61"/>
<rect x="121.86" y="756.49" width="31.29" height="31.36" fill="#b94d61"/>
<rect x="153.15" y="756.49" width="31.29" height="31.36" fill="#b94d61"/>
<rect x="184.44" y="756.49" width="31.29" height="31.36" fill="#b94d61"/>
<rect x="215.73" y="756.49" width="31.29" height="31.36" fill="#b94d61"/>
<rect x="247.01" y="756.49" width="31.29" height="31.36" fill="#b94d61"/>
<rect x="28" y="787.84" width="31.29" height="31.36" fill="#b94d61"/>
<rect x="59.29" y="787.84" width="31.29" height="31.36" fill="#b94d61"/>
<rect x="90.58" y="787.84" width="31.29" height="31.36" fill="#b94d61"/>
<rect x="121.86" y="787.84" width="31.29" height="31.36" fill="#b94d61"/>
<rect x="153.15" y="787.84" width="31.29" height="31.36" fill="#b94d61"/>
<rect x="184.44" y="787.84" width="31.29" height="31.36" fill="#b94d61"/>
<rect x="215.73" y="787.84" width="31.29" height="31.36" fill="#b94d61"/>
<rect x="247.01" y="787.84" width="31.29" height="31.36" fill="#b94d61"/>
</g>
<g font-size="8.6" text-anchor="middle" fill="#000" stroke="#000" stroke-width="0.2">
<text x="43.64" y="618.28">0.682</text>
<text x="74.93" y="618.28">0.720</text>
<text x="106.22" y="618.28">0.729</text>
<text x="137.51" y="618.28">0.728</text>
<text x="168.79" y="618.28">0.728</text>
<text x="200.08" y="618.28">0.730</text>
<text x="231.37" y="618.28">0.734</text>
<text x="262.66" y="618.28">0.729</text>
<text x="43.64" y="649.64">0.711</text>
<text x="74.93" y="649.64">0.749</text>
<text x="106.22" y="649.64">0.751</text>
<text x="137.51" y="649.64">0.750</text>
<text x="168.79" y="649.64">0.751</text>
<text x="200.08" y="649.64">0.751</text>
<text x="231.37" y="649.64">0.753</text>
<text x="262.66" y="649.64">0.745</text>
<text x="43.64" y="680.99">0.732</text>
<text x="74.93" y="680.99">0.762</text>
<text x="106.22" y="680.99">0.765</text>
<text x="137.51" y="680.99">0.767</text>
<text x="168.79" y="680.99">0.768</text>
<text x="200.08" y="680.99">0.768</text>
<text x="231.37" y="680.99">0.769</text>
<text x="262.66" y="680.99">0.764</text>
<text x="43.64" y="712.35">0.754</text>
<text x="74.93" y="712.35">0.774</text>
<text x="106.22" y="712.35">0.780</text>
<text x="137.51" y="712.35">0.785</text>
<text x="168.79" y="712.35">0.784</text>
<text x="200.08" y="712.35">0.783</text>
<text x="231.37" y="712.35">0.785</text>
<text x="262.66" y="712.35">0.782</text>
<text x="43.64" y="743.71">0.755</text>
<text x="74.93" y="743.71">0.778</text>
<text x="106.22" y="743.71">0.786</text>
<text x="137.51" y="743.71">0.789</text>
<text x="168.79" y="743.71">0.789</text>
<text x="200.08" y="743.71">0.788</text>
<text x="231.37" y="743.71">0.790</text>
<text x="262.66" y="743.71">0.787</text>
<text x="43.64" y="775.06">0.747</text>
<text x="74.93" y="775.06">0.775</text>
<text x="106.22" y="775.06">0.786</text>
<text x="137.51" y="775.06">0.789</text>
<text x="168.79" y="775.06">0.788</text>
<text x="200.08" y="775.06">0.786</text>
<text x="231.37" y="775.06">0.789</text>
<text x="262.66" y="775.06">0.787</text>
<text x="43.64" y="806.42">0.746</text>
<text x="74.93" y="806.42">0.773</text>
<text x="106.22" y="806.42">0.786</text>
<text x="137.51" y="806.42">0.789</text>
<text x="168.79" y="806.42">0.788</text>
<text x="200.08" y="806.42">0.786</text>
<text x="231.37" y="806.42">0.788</text>
<text x="262.66" y="806.42">0.786</text>
</g>
<rect x="217.03" y="727.53" width="29.44" height="27.66" fill="none" stroke="#ff0000" stroke-width="1.15"/>
<path d="M43.64 819.2v2.2M74.93 819.2v2.2M106.22 819.2v2.2M137.51 819.2v2.2M168.79 819.2v2.2M200.08 819.2v2.2M231.37 819.2v2.2M262.66 819.2v2.2M28 615.38h-2.2M28 646.74h-2.2M28 678.09h-2.2M28 709.45h-2.2M28 740.81h-2.2M28 772.16h-2.2M28 803.52h-2.2" stroke="#000" stroke-width="0.55" fill="none"/>
<text x="43.64" y="831.85" font-size="9.8" text-anchor="middle" fill="#000">25</text>
<text x="74.93" y="831.85" font-size="9.8" text-anchor="middle" fill="#000">50</text>
<text x="106.22" y="831.85" font-size="9.8" text-anchor="middle" fill="#000">75</text>
<text x="137.51" y="831.85" font-size="9.8" text-anchor="middle" fill="#000">100</text>
<text x="168.79" y="831.85" font-size="9.8" text-anchor="middle" fill="#000">125</text>
<text x="200.08" y="831.85" font-size="9.8" text-anchor="middle" fill="#000">150</text>
<text x="231.37" y="831.85" font-size="9.8" text-anchor="middle" fill="#000">175</text>
<text x="262.66" y="831.85" font-size="9.8" text-anchor="middle" fill="#000">200</text>
<text x="22.9" y="616.38" font-size="9.8" text-anchor="middle" fill="#000" transform="rotate(-90 22.9 616.38)">4</text>
<text x="22.9" y="647.74" font-size="9.8" text-anchor="middle" fill="#000" transform="rotate(-90 22.9 647.74)">5</text>
<text x="22.9" y="679.09" font-size="9.8" text-anchor="middle" fill="#000" transform="rotate(-90 22.9 679.09)">6</text>
<text x="22.9" y="710.45" font-size="9.8" text-anchor="middle" fill="#000" transform="rotate(-90 22.9 710.45)">7</text>
<text x="22.9" y="741.81" font-size="9.8" text-anchor="middle" fill="#000" transform="rotate(-90 22.9 741.81)">8</text>
<text x="22.9" y="773.16" font-size="9.8" text-anchor="middle" fill="#000" transform="rotate(-90 22.9 773.16)">9</text>
<text x="22.9" y="804.52" font-size="9.8" text-anchor="middle" fill="#000" transform="rotate(-90 22.9 804.52)">10</text>
<text x="153.55" y="844.4" font-size="11.0" text-anchor="middle" fill="#000">n_estimators</text>
<text x="10.4" y="710.45" font-size="11.0" text-anchor="middle" fill="#000" transform="rotate(-90 10.4 710.45)">max_depth</text>
<text x="153.15" y="596.5" font-size="11.0" text-anchor="middle" fill="#000">Hyperparameters of RF model (EDML dataset)</text>
<defs><linearGradient id="cb4" x1="0" y1="0" x2="0" y2="1"><stop offset="0" stop-color="#340d35"/><stop offset="0.1" stop-color="#340d35"/><stop offset="0.1" stop-color="#7f1b62"/><stop offset="0.2" stop-color="#7f1b62"/><stop offset="0.2" stop-color="#b94d61"/><stop offset="0.3" stop-color="#b94d61"/><stop offset="0.3" stop-color="#dc8c78"/><stop offset="0.4" stop-color="#dc8c78"/><stop offset="0.4" stop-color="#f0d3c7"/><stop offset="0.5" stop-color="#f0d3c7"/><stop offset="0.5" stop-color="#d9ddcd"/><stop offset="0.6" stop-color="#d9ddcd"/><stop offset="0.6" stop-color="#7db593"/><stop offset="0.7" stop-color="#7db593"/><stop offset="0.7" stop-color="#178a80"/><stop offset="0.8" stop-color="#178a80"/><stop offset="0.8" stop-color="#1c5465"/><stop offset="0.9" stop-color="#1c5465"/><stop offset="0.9" stop-color="#151d44"/><stop offset="1" stop-color="#151d44"/></linearGradient></defs>
<rect x="294" y="581.8" width="13" height="255.95" fill="url(#cb4)"/>
<text x="311" y="841.89" font-size="8.6" text-anchor="start" fill="#000">0.0</text>
<text x="311" y="790.7" font-size="8.6" text-anchor="start" fill="#000">0.2</text>
<text x="311" y="739.51" font-size="8.6" text-anchor="start" fill="#000">0.4</text>
<text x="311" y="688.32" font-size="8.6" text-anchor="start" fill="#000">0.6</text>
<text x="311" y="637.13" font-size="8.6" text-anchor="start" fill="#000">0.8</text>
<text x="311" y="585.94" font-size="8.6" text-anchor="start" fill="#000">1.0</text>
<path d="M307 837.75h2.2M307 786.56h2.2M307 735.37h2.2M307 684.18h2.2M307 632.99h2.2M307 581.8h2.2" stroke="#000" stroke-width="0.55" fill="none"/>
</g>
<g class="panel p5">
<g stroke="#fff" stroke-width="0.4">
<rect x="387.3" y="599.7" width="31.34" height="31.36" fill="#b94d61"/>
<rect x="418.64" y="599.7" width="31.34" height="31.36" fill="#b94d61"/>
<rect x="449.98" y="599.7" width="31.34" height="31.36" fill="#b94d61"/>
<rect x="481.31" y="599.7" width="31.34" height="31.36" fill="#b94d61"/>
<rect x="512.65" y="599.7" width="31.34" height="31.36" fill="#b94d61"/>
<rect x="543.99" y="599.7" width="31.34" height="31.36" fill="#b94d61"/>
<rect x="575.33" y="599.7" width="31.34" height="31.36" fill="#b94d61"/>
<rect x="606.66" y="599.7" width="31.34" height="31.36" fill="#b94d61"/>
<rect x="387.3" y="631.06" width="31.34" height="31.36" fill="#b94d61"/>
<rect x="418.64" y="631.06" width="31.34" height="31.36" fill="#b94d61"/>
<rect x="449.98" y="631.06" width="31.34" height="31.36" fill="#b94d61"/>
<rect x="481.31" y="631.06" width="31.34" height="31.36" fill="#b94d61"/>
<rect x="512.65" y="631.06" width="31.34" height="31.36" fill="#b94d61"/>
<rect x="543.99" y="631.06" width="31.34" height="31.36" fill="#b94d61"/>
<rect x="575.33" y="631.06" width="31.34" height="31.36" fill="#b94d61"/>
<rect x="606.66" y="631.06" width="31.34" height="31.36" fill="#b94d61"/>
<rect x="387.3" y="662.41" width="31.34" height="31.36" fill="#b94d61"/>
<rect x="418.64" y="662.41" width="31.34" height="31.36" fill="#b94d61"/>
<rect x="449.98" y="662.41" width="31.34" height="31.36" fill="#b94d61"/>
<rect x="481.31" y="662.41" width="31.34" height="31.36" fill="#b94d61"/>
<rect x="512.65" y="662.41" width="31.34" height="31.36" fill="#b94d61"/>
<rect x="543.99" y="662.41" width="31.34" height="31.36" fill="#b94d61"/>
<rect x="575.33" y="662.41" width="31.34" height="31.36" fill="#b94d61"/>
<rect x="606.66" y="662.41" width="31.34" height="31.36" fill="#b94d61"/>
<rect x="387.3" y="693.77" width="31.34" height="31.36" fill="#b94d61"/>
<rect x="418.64" y="693.77" width="31.34" height="31.36" fill="#b94d61"/>
<rect x="449.98" y="693.77" width="31.34" height="31.36" fill="#b94d61"/>
<rect x="481.31" y="693.77" width="31.34" height="31.36" fill="#b94d61"/>
<rect x="512.65" y="693.77" width="31.34" height="31.36" fill="#b94d61"/>
<rect x="543.99" y="693.77" width="31.34" height="31.36" fill="#b94d61"/>
<rect x="575.33" y="693.77" width="31.34" height="31.36" fill="#b94d61"/>
<rect x="606.66" y="693.77" width="31.34" height="31.36" fill="#b94d61"/>
<rect x="387.3" y="725.13" width="31.34" height="31.36" fill="#b94d61"/>
<rect x="418.64" y="725.13" width="31.34" height="31.36" fill="#b94d61"/>
<rect x="449.98" y="725.13" width="31.34" height="31.36" fill="#b94d61"/>
<rect x="481.31" y="725.13" width="31.34" height="31.36" fill="#b94d61"/>
<rect x="512.65" y="725.13" width="31.34" height="31.36" fill="#b94d61"/>
<rect x="543.99" y="725.13" width="31.34" height="31.36" fill="#b94d61"/>
<rect x="575.33" y="725.13" width="31.34" height="31.36" fill="#b94d61"/>
<rect x="606.66" y="725.13" width="31.34" height="31.36" fill="#b94d61"/>
<rect x="387.3" y="756.49" width="31.34" height="31.36" fill="#b94d61"/>
<rect x="418.64" y="756.49" width="31.34" height="31.36" fill="#b94d61"/>
<rect x="449.98" y="756.49" width="31.34" height="31.36" fill="#b94d61"/>
<rect x="481.31" y="756.49" width="31.34" height="31.36" fill="#b94d61"/>
<rect x="512.65" y="756.49" width="31.34" height="31.36" fill="#b94d61"/>
<rect x="543.99" y="756.49" width="31.34" height="31.36" fill="#b94d61"/>
<rect x="575.33" y="756.49" width="31.34" height="31.36" fill="#b94d61"/>
<rect x="606.66" y="756.49" width="31.34" height="31.36" fill="#b94d61"/>
<rect x="387.3" y="787.84" width="31.34" height="31.36" fill="#b94d61"/>
<rect x="418.64" y="787.84" width="31.34" height="31.36" fill="#b94d61"/>
<rect x="449.98" y="787.84" width="31.34" height="31.36" fill="#b94d61"/>
<rect x="481.31" y="787.84" width="31.34" height="31.36" fill="#b94d61"/>
<rect x="512.65" y="787.84" width="31.34" height="31.36" fill="#b94d61"/>
<rect x="543.99" y="787.84" width="31.34" height="31.36" fill="#b94d61"/>
<rect x="575.33" y="787.84" width="31.34" height="31.36" fill="#b94d61"/>
<rect x="606.66" y="787.84" width="31.34" height="31.36" fill="#b94d61"/>
</g>
<g font-size="8.55" text-anchor="middle" fill="#000" stroke="#000" stroke-width="0">
<text x="402.97" y="618.53">0.757</text>
<text x="434.31" y="618.53">0.745</text>
<text x="465.64" y="618.53">0.748</text>
<text x="496.98" y="618.53">0.743</text>
<text x="528.32" y="618.53">0.749</text>
<text x="559.66" y="618.53">0.744</text>
<text x="590.99" y="618.53">0.744</text>
<text x="622.33" y="618.53">0.741</text>
<text x="402.97" y="649.89">0.758</text>
<text x="434.31" y="649.89">0.758</text>
<text x="465.64" y="649.89">0.762</text>
<text x="496.98" y="649.89">0.758</text>
<text x="528.32" y="649.89">0.765</text>
<text x="559.66" y="649.89">0.758</text>
<text x="590.99" y="649.89">0.759</text>
<text x="622.33" y="649.89">0.753</text>
<text x="402.97" y="681.24">0.746</text>
<text x="434.31" y="681.24">0.764</text>
<text x="465.64" y="681.24">0.772</text>
<text x="496.98" y="681.24">0.769</text>
<text x="528.32" y="681.24">0.776</text>
<text x="559.66" y="681.24">0.774</text>
<text x="590.99" y="681.24">0.772</text>
<text x="622.33" y="681.24">0.768</text>
<text x="402.97" y="712.6">0.779</text>
<text x="434.31" y="712.6">0.770</text>
<text x="465.64" y="712.6">0.776</text>
<text x="496.98" y="712.6">0.775</text>
<text x="528.32" y="712.6">0.784</text>
<text x="559.66" y="712.6">0.780</text>
<text x="590.99" y="712.6">0.777</text>
<text x="622.33" y="712.6">0.774</text>
<text x="402.97" y="743.96">0.757</text>
<text x="434.31" y="743.96">0.765</text>
<text x="465.64" y="743.96">0.776</text>
<text x="496.98" y="743.96">0.776</text>
<text x="528.32" y="743.96">0.785</text>
<text x="559.66" y="743.96">0.782</text>
<text x="590.99" y="743.96">0.783</text>
<text x="622.33" y="743.96">0.778</text>
<text x="402.97" y="775.31">0.768</text>
<text x="434.31" y="775.31">0.765</text>
<text x="465.64" y="775.31">0.775</text>
<text x="496.98" y="775.31">0.770</text>
<text x="528.32" y="775.31">0.776</text>
<text x="559.66" y="775.31">0.775</text>
<text x="590.99" y="775.31">0.774</text>
<text x="622.33" y="775.31">0.772</text>
<text x="402.97" y="806.67">0.731</text>
<text x="434.31" y="806.67">0.747</text>
<text x="465.64" y="806.67">0.754</text>
<text x="496.98" y="806.67">0.758</text>
<text x="528.32" y="806.67">0.772</text>
<text x="559.66" y="806.67">0.767</text>
<text x="590.99" y="806.67">0.767</text>
<text x="622.33" y="806.67">0.764</text>
</g>
<rect x="512.65" y="727.53" width="29.74" height="27.66" fill="none" stroke="#ff0000" stroke-width="1.15"/>
<path d="M402.97 819.2v2.2M434.31 819.2v2.2M465.64 819.2v2.2M496.98 819.2v2.2M528.32 819.2v2.2M559.66 819.2v2.2M590.99 819.2v2.2M622.33 819.2v2.2M387.3 615.38h-2.2M387.3 646.74h-2.2M387.3 678.09h-2.2M387.3 709.45h-2.2M387.3 740.81h-2.2M387.3 772.16h-2.2M387.3 803.52h-2.2" stroke="#000" stroke-width="0.55" fill="none"/>
<text x="402.97" y="831.75" font-size="9.8" text-anchor="middle" fill="#000">25</text>
<text x="434.31" y="831.75" font-size="9.8" text-anchor="middle" fill="#000">50</text>
<text x="465.64" y="831.75" font-size="9.8" text-anchor="middle" fill="#000">75</text>
<text x="496.98" y="831.75" font-size="9.8" text-anchor="middle" fill="#000">100</text>
<text x="528.32" y="831.75" font-size="9.8" text-anchor="middle" fill="#000">125</text>
<text x="559.66" y="831.75" font-size="9.8" text-anchor="middle" fill="#000">150</text>
<text x="590.99" y="831.75" font-size="9.8" text-anchor="middle" fill="#000">175</text>
<text x="622.33" y="831.75" font-size="9.8" text-anchor="middle" fill="#000">200</text>
<text x="382.2" y="616.38" font-size="9.8" text-anchor="middle" fill="#000" transform="rotate(-90 382.2 616.38)">4</text>
<text x="382.2" y="647.74" font-size="9.8" text-anchor="middle" fill="#000" transform="rotate(-90 382.2 647.74)">5</text>
<text x="382.2" y="679.09" font-size="9.8" text-anchor="middle" fill="#000" transform="rotate(-90 382.2 679.09)">6</text>
<text x="382.2" y="710.45" font-size="9.8" text-anchor="middle" fill="#000" transform="rotate(-90 382.2 710.45)">7</text>
<text x="382.2" y="741.81" font-size="9.8" text-anchor="middle" fill="#000" transform="rotate(-90 382.2 741.81)">8</text>
<text x="382.2" y="773.16" font-size="9.8" text-anchor="middle" fill="#000" transform="rotate(-90 382.2 773.16)">9</text>
<text x="382.2" y="804.52" font-size="9.8" text-anchor="middle" fill="#000" transform="rotate(-90 382.2 804.52)">10</text>
<text x="512.65" y="844.4" font-size="11.0" text-anchor="middle" fill="#000">n_estimators</text>
<text x="368.7" y="710.45" font-size="11.0" text-anchor="middle" fill="#000" transform="rotate(-90 368.7 710.45)">max_depth</text>
<text x="512.65" y="596.8" font-size="11.05" text-anchor="middle" fill="#000">Hyperparameters of RF model (ML dataset)</text>
<defs><linearGradient id="cb5" x1="0" y1="0" x2="0" y2="1"><stop offset="0" stop-color="#340d35"/><stop offset="0.1" stop-color="#340d35"/><stop offset="0.1" stop-color="#7f1b62"/><stop offset="0.2" stop-color="#7f1b62"/><stop offset="0.2" stop-color="#b94d61"/><stop offset="0.3" stop-color="#b94d61"/><stop offset="0.3" stop-color="#dc8c78"/><stop offset="0.4" stop-color="#dc8c78"/><stop offset="0.4" stop-color="#f0d3c7"/><stop offset="0.5" stop-color="#f0d3c7"/><stop offset="0.5" stop-color="#d9ddcd"/><stop offset="0.6" stop-color="#d9ddcd"/><stop offset="0.6" stop-color="#7db593"/><stop offset="0.7" stop-color="#7db593"/><stop offset="0.7" stop-color="#178a80"/><stop offset="0.8" stop-color="#178a80"/><stop offset="0.8" stop-color="#1c5465"/><stop offset="0.9" stop-color="#1c5465"/><stop offset="0.9" stop-color="#151d44"/><stop offset="1" stop-color="#151d44"/></linearGradient></defs>
<rect x="653.8" y="581.8" width="12.2" height="255.7" fill="url(#cb5)"/>
<text x="670.5" y="841.54" font-size="8.6" text-anchor="start" fill="#000">0.0</text>
<text x="670.5" y="790.4" font-size="8.6" text-anchor="start" fill="#000">0.2</text>
<text x="670.5" y="739.26" font-size="8.6" text-anchor="start" fill="#000">0.4</text>
<text x="670.5" y="688.12" font-size="8.6" text-anchor="start" fill="#000">0.6</text>
<text x="670.5" y="636.98" font-size="8.6" text-anchor="start" fill="#000">0.8</text>
<text x="670.5" y="585.84" font-size="8.6" text-anchor="start" fill="#000">1.0</text>
<path d="M666 837.5h2.2M666 786.36h2.2M666 735.22h2.2M666 684.08h2.2M666 632.94h2.2M666 581.8h2.2" stroke="#000" stroke-width="0.55" fill="none"/>
</g>
</svg></body></html>
